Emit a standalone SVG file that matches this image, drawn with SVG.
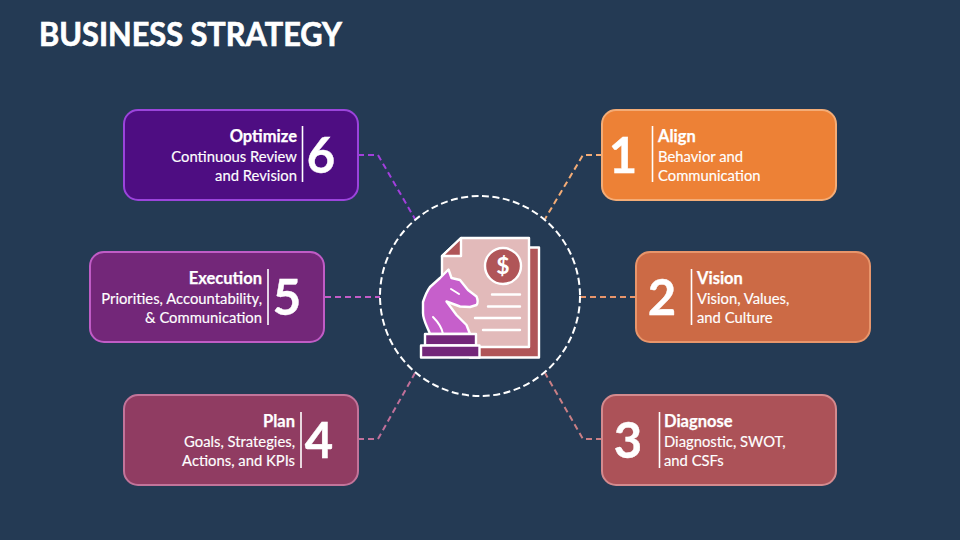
<svg xmlns="http://www.w3.org/2000/svg" width="960" height="540" viewBox="0 0 960 540">
<style>
text{font-family:Lato,"Liberation Sans",sans-serif;fill:#fff}
.t{font-size:33px;font-weight:700;stroke:#fff;stroke-width:.7px}
.h{font-size:16.500px;font-weight:700;stroke:#fff;stroke-width:.25px}
.b{font-size:14.800px;stroke:#fff;stroke-width:.15px}
.n{font-size:49px;font-weight:700;stroke:#fff;stroke-width:.4px}
.e{text-anchor:end}
.m{text-anchor:middle}
.box{stroke-width:2}
.sep{stroke:#fff;stroke-width:1.6}
.c{fill:none;stroke-width:2;stroke-dasharray:6 4}
.ol{stroke:#fff;stroke-width:2.4;stroke-linejoin:round}
.ln{stroke:#fff;stroke-width:2.4;stroke-linecap:round}
</style>
<rect width="960" height="540" fill="#243a54"/>
<text class="t" x="39" y="46" textLength="303" lengthAdjust="spacingAndGlyphs">BUSINESS STRATEGY</text>
<g id="connectors">
<path class="c" stroke="#a23fdc" d="M358 155H378L415 219"/>
<path class="c" stroke="#f4ac76" d="M602 155H583L545 219"/>
<path class="c" stroke="#c45cc8" d="M325 297H380"/>
<path class="c" stroke="#e8956b" d="M636 297H580"/>
<path class="c" stroke="#c0709a" d="M358 439H378L415 373"/>
<path class="c" stroke="#c97f85" d="M602 439H583L545 373"/>
</g>
<g id="center">
<circle cx="480" cy="296" r="100" fill="none" stroke="#fff" stroke-width="2" stroke-dasharray="7 3.500"/>
<path class="ol" fill="#b05558" d="M470 247.500H539V357.500H470Z"/>
<path class="ol" fill="#e2baba" d="M461 238H529V347H442V256Z"/>
<path class="ol" fill="#b05558" d="M461 238V256H442Z"/>
<circle cx="503" cy="266" r="18" fill="#b05558" stroke="#fff" stroke-width="2.400"/>
<text x="503" y="274" class="m" style="font-size:23px;font-weight:700">$</text>
<path class="ln" d="M492 294.500H520M488 306.500H520M475 318H520M483 330H520"/>
<path class="ol" fill="#c65fcb" d="M448.500 269.500L451.500 278L460 280L468 290L476.500 296.500C478 300 478 303 476.500 305L470 307L460 306.500L446.500 301.500L456.500 315L466.500 325L470 334H430C427 326 423 320 423 313L423 302C425 296 427 291 430 287L440 278Z"/>
<path d="M451 289L459 294M433 317C438 322 442 328 443 334" fill="none" stroke="#fff" stroke-width="2" stroke-linecap="round"/>
<path class="ol" fill="#732779" d="M425 334H476V345.500H425Z"/>
<path class="ol" fill="#732779" d="M421 345.500H479.500V357.500H421Z"/>
</g>
<g id="node-6">
<rect class="box" x="124" y="110" width="234" height="90" rx="14" fill="#4e0d82" stroke="#9b44dc"/>
<text class="h e" x="297" y="141.500">Optimize</text>
<text class="b e" x="297" y="162">Continuous Review</text>
<text class="b e" x="297" y="181">and Revision</text>
<line class="sep" x1="302.500" y1="126" x2="302.500" y2="182"/>
<text class="n m" x="321" y="173">6</text>
</g>
<g id="node-5">
<rect class="box" x="90" y="252" width="234" height="90" rx="14" fill="#732779" stroke="#c05cc6"/>
<text class="h e" x="262" y="283.500">Execution</text>
<text class="b e" x="262" y="304">Priorities, Accountability,</text>
<text class="b e" x="262" y="323">&amp; Communication</text>
<line class="sep" x1="268" y1="269" x2="268" y2="325"/>
<text class="n m" x="287" y="315">5</text>
</g>
<g id="node-4">
<rect class="box" x="124" y="395" width="234" height="90" rx="14" fill="#903c62" stroke="#c2749a"/>
<text class="h e" x="295" y="426.500">Plan</text>
<text class="b e" x="295" y="447">Goals, Strategies,</text>
<text class="b e" x="295" y="466">Actions, and KPIs</text>
<line class="sep" x1="301" y1="412" x2="301" y2="468"/>
<text class="n m" x="319" y="458">4</text>
</g>
<g id="node-1">
<rect class="box" x="602" y="110" width="234" height="90" rx="14" fill="#ed8136" stroke="#f4ac76"/>
<text class="h" x="658" y="141.500">Align</text>
<text class="b" x="658" y="162">Behavior and</text>
<text class="b" x="658" y="181">Communication</text>
<line class="sep" x1="652.500" y1="126" x2="652.500" y2="182"/>
<text class="n m" x="623" y="173">1</text>
</g>
<g id="node-2">
<rect class="box" x="636" y="252" width="234" height="90" rx="14" fill="#cc6a45" stroke="#e8956b"/>
<text class="h" x="697" y="283.500">Vision</text>
<text class="b" x="697" y="304">Vision, Values,</text>
<text class="b" x="697" y="323">and Culture</text>
<line class="sep" x1="691.500" y1="269" x2="691.500" y2="325"/>
<text class="n m" x="662" y="315">2</text>
</g>
<g id="node-3">
<rect class="box" x="602" y="395" width="234" height="90" rx="14" fill="#ac5258" stroke="#d48a8e"/>
<text class="h" x="664" y="426.500">Diagnose</text>
<text class="b" x="664" y="447">Diagnostic, SWOT,</text>
<text class="b" x="664" y="466">and CSFs</text>
<line class="sep" x1="659.500" y1="412" x2="659.500" y2="468"/>
<text class="n m" x="628" y="458">3</text>
</g>
</svg>
